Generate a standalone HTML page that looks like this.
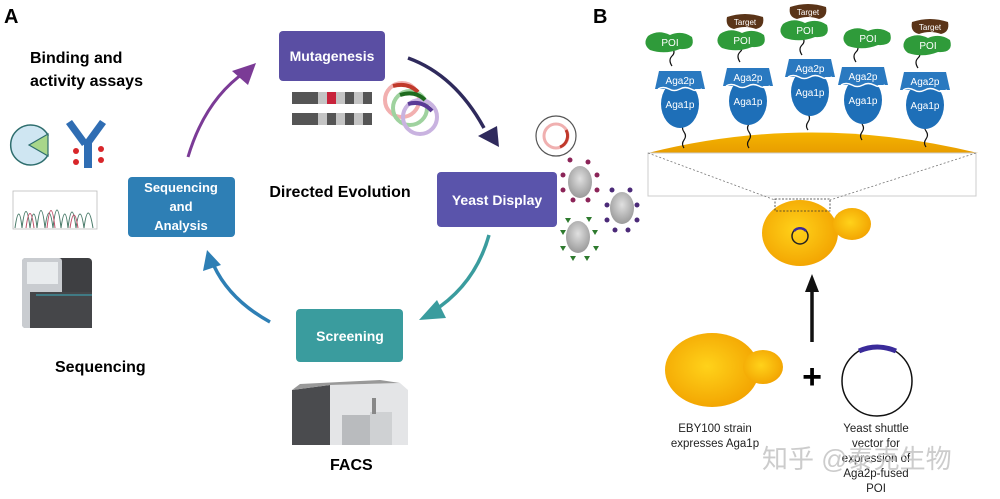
<!DOCTYPE html>
<html><head><meta charset="utf-8"><style>
html,body{margin:0;padding:0;background:#fff;}
svg{display:block;font-family:"Liberation Sans",Arial,sans-serif;}
.b{font-weight:bold}
</style></head><body>
<svg width="1000" height="499" viewBox="0 0 1000 499" xmlns="http://www.w3.org/2000/svg">
<defs>
<radialGradient id="yg" cx="45%" cy="45%" r="60%"><stop offset="0" stop-color="#ffd21a"/><stop offset="1" stop-color="#f2a200"/></radialGradient>
<linearGradient id="sg" x1="0" y1="0" x2="0" y2="1"><stop offset="0" stop-color="#f5b400"/><stop offset="1" stop-color="#e89d00"/></linearGradient>
<radialGradient id="cg" cx="50%" cy="40%" r="60%"><stop offset="0" stop-color="#e0e0e0"/><stop offset="1" stop-color="#9a9a9a"/></radialGradient>
<g id="aga">
<ellipse cx="0" cy="0" rx="19" ry="24" fill="#1e6fb8"/>
<path d="M-21 -33 L21 -33 L25 -15 L-25 -15 Z" fill="#2a79c0"/>
<path d="M-22 -15 q5 -3 11 0 q5 3 11 0 q5 -3 11 0 q5 3 11 0" stroke="#fff" stroke-width="1.5" fill="none"/>
<text x="0" y="4" font-size="10" fill="#fff" text-anchor="middle">Aga1p</text>
<text x="0" y="-20" font-size="10" fill="#fff" text-anchor="middle">Aga2p</text>
</g>
<g id="poi">
<path d="M-22 -6 Q-12 -13 0 -7 Q12 -12 22 -5 Q26 8 10 7 Q-5 13 -20 8 Q-28 2 -22 -6Z" fill="#2f9b3a"/>
<text x="0" y="4" font-size="10" fill="#fff" text-anchor="middle">POI</text>
</g>
<g id="tgt">
<path d="M-18 -6 Q0 -12 18 -6 Q20 4 11 6 Q0 2 -11 6 Q-20 4 -18 -6Z" fill="#5a3418"/>
<text x="0" y="2" font-size="8" fill="#fff" text-anchor="middle">Target</text>
</g>
</defs>
<rect width="1000" height="499" fill="#fff"/>
<text x="4" y="23" font-size="20" class="b">A</text>
<text x="593" y="23" font-size="20" class="b">B</text>
<text x="30" y="63" font-size="16" class="b">Binding and</text>
<text x="30" y="86" font-size="16" class="b">activity assays</text>
<text x="55" y="372" font-size="16" class="b">Sequencing</text>
<text x="330" y="470" font-size="16" class="b">FACS</text>
<text x="340" y="197" font-size="16" class="b" text-anchor="middle">Directed Evolution</text>

<rect x="279" y="31" width="106" height="50" rx="4" fill="#5a4ea3"/>
<text x="332" y="61" font-size="14" class="b" fill="#fff" text-anchor="middle">Mutagenesis</text>
<rect x="437" y="172" width="120" height="55" rx="4" fill="#5a54ab"/>
<text x="497" y="205" font-size="14" class="b" fill="#fff" text-anchor="middle">Yeast Display</text>
<rect x="296" y="309" width="107" height="53" rx="4" fill="#3a9c9e"/>
<text x="350" y="341" font-size="14" class="b" fill="#fff" text-anchor="middle">Screening</text>
<rect x="128" y="177" width="107" height="60" rx="4" fill="#2e7fb5"/>
<text x="181" y="192" font-size="13" class="b" fill="#fff" text-anchor="middle">Sequencing</text>
<text x="181" y="211" font-size="13" class="b" fill="#fff" text-anchor="middle">and</text>
<text x="181" y="230" font-size="13" class="b" fill="#fff" text-anchor="middle">Analysis</text>

<path d="M188 157 Q205 100 245 72" stroke="#7b3b96" stroke-width="3" fill="none"/>
<polygon points="256,63 232,71 248,85" fill="#7b3b96"/>
<path d="M408 58 Q455 75 484 128" stroke="#2f2a5c" stroke-width="3.5" fill="none"/>
<polygon points="499,147 478,136 497,126" fill="#2f2a5c"/>
<path d="M489 235 Q475 285 432 312" stroke="#3a9c9e" stroke-width="3.5" fill="none"/>
<polygon points="419,320 437,300 446,318" fill="#3a9c9e"/>
<path d="M270 322 Q230 300 214 266" stroke="#2e7fb5" stroke-width="3.5" fill="none"/>
<polygon points="207,250 203,271 221,265" fill="#2e7fb5"/>

<g>
<rect x="292" y="92" width="80" height="12" fill="#555"/>
<rect x="292" y="113" width="80" height="12" fill="#555"/>
<rect x="318" y="92" width="9" height="12" fill="#c4c4c4"/><rect x="327" y="92" width="9" height="12" fill="#c8233b"/><rect x="336" y="92" width="9" height="12" fill="#c4c4c4"/><rect x="354" y="92" width="9" height="12" fill="#c4c4c4"/>
<rect x="318" y="113" width="9" height="12" fill="#c4c4c4"/><rect x="336" y="113" width="9" height="12" fill="#c4c4c4"/><rect x="354" y="113" width="9" height="12" fill="#c4c4c4"/>
</g>
<circle cx="402" cy="100" r="17" stroke="#f2b0b0" stroke-width="4" fill="none"/>
<circle cx="410" cy="108" r="17" stroke="#9fd29f" stroke-width="4" fill="none"/>
<circle cx="420" cy="117" r="17" stroke="#c9b3e0" stroke-width="4" fill="none"/>
<path d="M393 86 Q408 82 418 92" stroke="#c0392b" stroke-width="4" fill="none"/>
<path d="M400 95 Q415 90 425 100" stroke="#1e6b1e" stroke-width="4" fill="none"/>
<path d="M408 104 Q422 100 432 111" stroke="#5a3b96" stroke-width="4" fill="none"/>

<circle cx="556" cy="136" r="20" fill="#fff" stroke="#555" stroke-width="1.2"/>
<circle cx="556" cy="136" r="12" stroke="#f0b0b0" stroke-width="3" fill="none"/>
<path d="M566 130 A12 12 0 0 1 560 147" stroke="#c0392b" stroke-width="3" fill="none"/>
<ellipse cx="580" cy="182" rx="12" ry="16" fill="url(#cg)"/>
<ellipse cx="622" cy="208" rx="12" ry="16" fill="url(#cg)"/>
<ellipse cx="578" cy="237" rx="12" ry="16" fill="url(#cg)"/>
<g fill="#8b2458"><circle cx="570" cy="160" r="2.5"/><circle cx="588" cy="162" r="2.5"/><circle cx="563" cy="175" r="2.5"/><circle cx="597" cy="175" r="2.5"/><circle cx="563" cy="190" r="2.5"/><circle cx="597" cy="190" r="2.5"/><circle cx="573" cy="200" r="2.5"/><circle cx="588" cy="200" r="2.5"/></g>
<g fill="#4b2a78"><circle cx="612" cy="190" r="2.5"/><circle cx="630" cy="190" r="2.5"/><circle cx="607" cy="205" r="2.5"/><circle cx="637" cy="205" r="2.5"/><circle cx="607" cy="220" r="2.5"/><circle cx="637" cy="220" r="2.5"/><circle cx="615" cy="230" r="2.5"/><circle cx="628" cy="230" r="2.5"/></g>
<g fill="#2e7a2e"><polygon points="565,218 571,218 568,223"/><polygon points="586,217 592,217 589,222"/><polygon points="560,230 566,230 563,235"/><polygon points="592,230 598,230 595,235"/><polygon points="560,246 566,246 563,251"/><polygon points="593,246 599,246 596,251"/><polygon points="570,256 576,256 573,261"/><polygon points="584,256 590,256 587,261"/></g>

<path d="M33 145 L48 135 A20 20 0 1 0 48 155 Z" fill="#cfe6f2" stroke="#2e6e6e" stroke-width="1.5"/>
<polygon points="29,145 48,134 48,156" fill="#a8d68a" stroke="#2e6e6e" stroke-width="1.2"/>
<g fill="#2f6db3"><rect x="84" y="140" width="8" height="28"/><polygon points="66,124 72,120 88,142 82,146"/><polygon points="106,124 100,120 84,142 90,146"/></g>
<g fill="#d8262a"><circle cx="76" cy="151" r="3"/><circle cx="76" cy="162" r="3"/><circle cx="101" cy="149" r="3"/><circle cx="101" cy="160" r="3"/></g>
<rect x="13" y="191" width="84" height="38" fill="#fff" stroke="#bbb" stroke-width="0.8"/>
<path d="M15 228 Q19 200 22 228 Q26 195 30 228 Q34 200 37 228 Q41 193 45 228 Q49 198 53 228 Q57 192 61 228 Q65 200 68 228 Q72 196 76 228 Q80 200 84 228 Q88 198 93 228" stroke="#4a7b6a" stroke-width="1" fill="none"/>
<path d="M26 228 Q30 199 34 228 M47 228 Q51 193 55 228 M70 228 Q74 202 78 228" stroke="#c0506a" stroke-width="1" fill="none"/>
<rect x="22" y="258" width="70" height="70" rx="4" fill="#3e3f42"/>
<rect x="22" y="258" width="40" height="70" rx="3" fill="#c9ccd0"/>
<rect x="27" y="262" width="31" height="22" fill="#e9ecee"/>
<rect x="30" y="292" width="62" height="36" fill="#454649"/>
<line x1="36" y1="295" x2="92" y2="295" stroke="#3aaec0" stroke-width="1"/>

<polygon points="292,390 330,385 330,445 292,445" fill="#4a4b4e"/>
<polygon points="330,385 400,383 408,390 408,445 330,445" fill="#e4e5e7"/>
<rect x="342" y="415" width="28" height="30" fill="#b9bbbe"/>
<rect x="370" y="412" width="22" height="33" fill="#cfd1d3"/>
<rect x="372" y="398" width="4" height="16" fill="#888"/>
<polygon points="292,390 330,385 400,383 380,380 300,384" fill="#999"/>

<path d="M648 153 Q810 112 978 153 Z" fill="url(#sg)"/>
<rect x="648" y="153" width="328" height="43" fill="#fff" stroke="#ccc" stroke-width="1"/>
<line x1="648" y1="153" x2="775" y2="200" stroke="#777" stroke-dasharray="2,2" stroke-width="0.8"/>
<line x1="976" y1="153" x2="830" y2="200" stroke="#777" stroke-dasharray="2,2" stroke-width="0.8"/>
<ellipse cx="800" cy="233" rx="38" ry="33" fill="url(#yg)"/>
<ellipse cx="852" cy="224" rx="19" ry="16" fill="url(#yg)"/>
<rect x="775" y="199" width="55" height="12" fill="none" stroke="#333" stroke-dasharray="2,1.5" stroke-width="0.8"/>
<circle cx="800" cy="236" r="8" fill="none" stroke="#222" stroke-width="1.5"/>
<path d="M794 231 A8 8 0 0 1 806 231" stroke="#3a2b9a" stroke-width="2.5" fill="none"/>
<line x1="812" y1="342" x2="812" y2="290" stroke="#111" stroke-width="3.5"/>
<polygon points="812,274 805,292 819,292" fill="#111"/>
<ellipse cx="712" cy="370" rx="47" ry="37" fill="url(#yg)"/>
<ellipse cx="763" cy="367" rx="20" ry="17" fill="url(#yg)"/>
<text x="812" y="388" font-size="34" class="b" text-anchor="middle">+</text>
<circle cx="877" cy="381" r="35" fill="none" stroke="#111" stroke-width="1.5"/>
<path d="M859 351 Q877 343 896 351" stroke="#3a2b9a" stroke-width="5" fill="none"/>
<g font-size="11.5" fill="#222" text-anchor="middle">
<text x="715" y="432">EBY100 strain</text>
<text x="715" y="447">expresses Aga1p</text>
<text x="876" y="432">Yeast shuttle</text>
<text x="876" y="447">vector for</text>
<text x="876" y="462">expression of</text>
<text x="876" y="477">Aga2p-fused</text>
<text x="876" y="492">POI</text>
</g>
<text x="762" y="468" font-size="26" fill="#c4c4c4" opacity="0.85" font-family="'Liberation Sans','Noto Sans CJK SC',sans-serif">知乎 @泰克生物</text>

<!-- proteins -->
<g stroke="#111" fill="none" stroke-width="1.2">
<path d="M684 148 q-3 -4 0 -8 q3 -4 0 -8 q-3 -4 0 -8"/>
<path d="M749 148 q-3 -4 0 -8 q3 -4 0 -8 q-3 -4 0 -8"/>
<path d="M808 130 q-3 -4 0 -8 q3 -4 0 -8"/>
<path d="M862 140 q-3 -4 0 -8 q3 -4 0 -8"/>
<path d="M926 147 q-3 -4 0 -8 q3 -4 0 -8 q-3 -4 0 -8"/>
<path d="M672 66 q-4 -6 0 -10 q4 -4 0 -8"/>
<path d="M740 62 q-4 -6 0 -10 q4 -4 0 -8"/>
<path d="M802 55 q-4 -6 0 -10 q4 -4 0 -8"/>
<path d="M856 62 q-4 -6 0 -10 q4 -4 0 -8"/>
<path d="M918 68 q-4 -6 0 -10 q4 -4 0 -8"/>
</g>
<use href="#aga" x="680" y="104"/>
<use href="#aga" x="748" y="101"/>
<use href="#aga" x="810" y="92"/>
<use href="#aga" x="863" y="100"/>
<use href="#aga" x="925" y="105"/>
<use href="#poi" x="670" y="42"/>
<use href="#poi" x="742" y="40"/>
<use href="#poi" x="805" y="30"/>
<use href="#poi" x="868" y="38"/>
<use href="#poi" x="928" y="45"/>
<use href="#tgt" x="745" y="23"/>
<use href="#tgt" x="808" y="13"/>
<use href="#tgt" x="930" y="28"/>
</svg>
</body></html>
